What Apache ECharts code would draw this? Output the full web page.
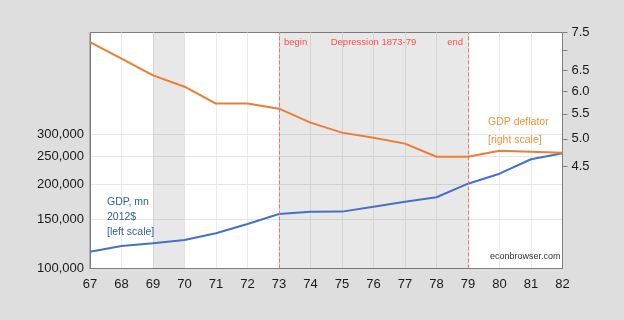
<!DOCTYPE html>
<html>
<head>
<meta charset="utf-8">
<script src="https://cdn.jsdelivr.net/npm/echarts@6/dist/echarts.min.js"></script>
<style>
html,body{margin:0;padding:0;background:#dedede;}
#c{width:624px;height:320px;}
</style>
</head>
<body>
<div id="c"></div>
<script>
// ---- data ----
const years = [67,68,69,70,71,72,73,74,75,76,77,78,79,80,81,82];
const gdp = [114800,120300,122900,126300,133500,144000,156300,159300,159400,166000,172900,179300,200400,217500,244800,257100];
const deflator = [7.23,6.79,6.37,6.10,5.72,5.72,5.61,5.32,5.12,5.02,4.91,4.67,4.67,4.78,4.76,4.74];
const leftTicks = [100000,150000,200000,250000,300000];
const rightTicks = [4.5,5.0,5.5,6.0,6.5,7.0,7.5];
const rightLabels = [4.5,5.0,5.5,6.0,6.5,7.5];
const leftRange = [100000,692000];
const rightRange = [3.05,7.5];
const shadeRecession = [69,70];
const depression = [73,79];

const L = Math.log10;
const chart = echarts.init(document.getElementById('c'));
const font = 'Liberation Sans, Arial, sans-serif';
chart.setOption({
  backgroundColor:'#dedede',
  animation:false,
  grid:{left:90,right:61.5,top:32.5,bottom:51.5,show:true,backgroundColor:'#ffffff',borderColor:'#7f7f7f',borderWidth:1},
  xAxis:{type:'value',min:years[0],max:years[years.length-1],interval:1,
    axisLine:{lineStyle:{color:'#7f7f7f'}},axisTick:{show:false},
    axisLabel:{color:'#1a1a1a',fontSize:13,fontFamily:font,margin:9},
    splitLine:{show:true,lineStyle:{color:'#ebebeb'}}},
  yAxis:[
    {type:'value',min:L(leftRange[0]),max:L(leftRange[1]),position:'left',
      axisLine:{show:true,lineStyle:{color:'#7f7f7f'}},
      axisTick:{show:false,customValues:leftTicks.map(L)},
      axisLabel:{customValues:leftTicks.map(L),color:'#1a1a1a',fontSize:13,fontFamily:font,margin:6,
        formatter:v=>Math.round(Math.pow(10,v)).toLocaleString('en-US')},
      splitLine:{show:true,lineStyle:{color:'#e6e6e6'}}},
    {type:'value',min:L(rightRange[0]),max:L(rightRange[1]),position:'right',
      axisLine:{show:true,lineStyle:{color:'#7f7f7f'}},
      axisTick:{show:true,inside:false,length:5,customValues:rightTicks.map(L),lineStyle:{color:'#7f7f7f'}},
      axisLabel:{customValues:rightLabels.map(L),color:'#1a1a1a',fontSize:13,fontFamily:font,margin:9,
        formatter:v=>Math.pow(10,v).toFixed(1)},
      splitLine:{show:false}}
  ],
  series:[
    {name:'shade',type:'line',data:[],z:1,silent:true,
      markArea:{silent:true,itemStyle:{color:'rgba(0,0,0,0.09)'},
        label:{fontSize:9.5,fontFamily:font,color:'#ff4d4d',distance:5},
        data:[
          [{xAxis:shadeRecession[0],label:{show:false}},{xAxis:shadeRecession[1]}],
          [{xAxis:depression[0],name:'Depression 1873-79',label:{show:true,position:'insideTop',distance:5}},{xAxis:depression[1]}],
          [{xAxis:depression[0],name:'begin',itemStyle:{color:'rgba(0,0,0,0)'},label:{show:true,position:'insideTopLeft',distance:5}},{xAxis:depression[1]}],
          [{xAxis:depression[0],name:'end',itemStyle:{color:'rgba(0,0,0,0)'},label:{show:true,position:'insideTopRight',distance:5}},{xAxis:depression[1]}]
        ]},
      markLine:{silent:true,symbol:'none',label:{show:false},
        lineStyle:{color:'#ff6b6b',type:[4,2],width:1},
        data:[{xAxis:depression[0]},{xAxis:depression[1]}]}
    },
    {name:'GDP',type:'line',yAxisIndex:0,z:3,symbol:'none',
      lineStyle:{color:'#4472c4',width:2},
      data:years.map((y,i)=>[y,L(gdp[i])])},
    {name:'Deflator',type:'line',yAxisIndex:1,z:3,symbol:'none',
      lineStyle:{color:'#ed7d31',width:2},
      data:years.map((y,i)=>[y,L(deflator[i])])}
  ],
  graphic:[
    {type:'text',z:100,left:107,top:195,style:{text:'GDP, mn\n2012$\n[left scale]',fill:'#2f5fa8',font:'10.5px '+font,lineHeight:15}},
    {type:'text',z:100,left:488,top:113,style:{text:'GDP deflator\n[right scale]',fill:'#e8943a',font:'10.5px '+font,lineHeight:18}},
    {type:'text',z:100,left:490,top:252,style:{text:'econbrowser.com',fill:'#333333',font:'9px '+font}}
  ]
});
</script>
</body>
</html>
